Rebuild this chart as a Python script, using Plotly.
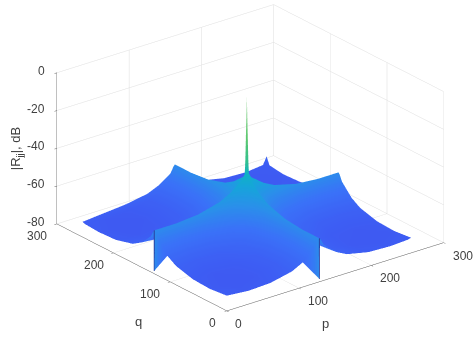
import plotly.graph_objects as go

p_vals = [0,1,30,60,90,105,115,122,126,127,128,129,130,134,141,151,166,196,226,250,255]
q_vals = [0,1,30,60,90,105,115,122,126,127,128,129,130,134,141,151,166,196,226,250,255]
tick_vals_xy = [0,100,200,300]
tick_vals_z = [-80,-60,-40,-20,0]
wall_p = [128,128,None,0,0]
wall_q = [0,0,None,128,128]
wall_z = [-78.5,-57,None,-78.5,-57]

R_dB = [
[-72,-72,-73,-72.5,-70,-67,-72,-75.5,-77.5,-78,-78.5,-57.5,-58,-61,-63.5,-67,-70,-72.5,-73,-72.5,-72],
[-72,-72,-73,-72.5,-70,-67,-63.5,-61,-58,-57.5,-57,-57.5,-58,-61,-63.5,-67,-70,-72.5,-73,-72.5,-72],
[-73,-73,-74,-73.5,-71,-68,-64.5,-62,-59,-58.5,-57,-58.5,-59,-62,-64.5,-68,-71,-73.5,-74,-73.5,-73],
[-72.5,-72.5,-73.5,-73,-70.5,-67.5,-64,-61.5,-58.5,-58,-56,-58,-58.5,-61.5,-64,-67.5,-70.5,-73,-73.5,-73,-72.5],
[-70,-70,-71,-70.5,-68,-65,-61.5,-59,-56,-55.5,-53,-55.5,-56,-59,-61.5,-65,-68,-70.5,-71,-70.5,-70],
[-67,-67,-68,-67.5,-65,-62,-58.5,-56,-53,-52.5,-50,-52.5,-53,-56,-58.5,-62,-65,-67.5,-68,-67.5,-67],
[-72,-63.5,-64.5,-64,-61.5,-58.5,-55,-52.5,-49.5,-49,-47,-49,-49.5,-52.5,-55,-58.5,-61.5,-64,-64.5,-64,-63.5],
[-75.5,-61,-62,-61.5,-59,-56,-52.5,-50,-47,-46.5,-45,-46.5,-47,-50,-52.5,-56,-59,-61.5,-62,-61.5,-61],
[-77.5,-58,-59,-58.5,-56,-53,-49.5,-47,-44,-43.5,-42,-43.5,-44,-47,-49.5,-53,-56,-58.5,-59,-58.5,-58],
[-78,-57.5,-58.5,-58,-55.5,-52.5,-49,-46.5,-43.5,-32,-18,-32,-43.5,-46.5,-49,-52.5,-55.5,-58,-58.5,-58,-57.5],
[-78.5,-57,-57,-56,-53,-50,-47,-45,-42,-18,-2,-18,-42,-45,-47,-50,-53,-56,-57,-57,-57],
[-57.5,-57.5,-58.5,-58,-55.5,-52.5,-49,-46.5,-43.5,-32,-18,-32,-43.5,-46.5,-49,-52.5,-55.5,-58,-58.5,-58,-57.5],
[-58,-58,-59,-58.5,-56,-53,-49.5,-47,-44,-43.5,-42,-43.5,-44,-47,-49.5,-53,-56,-58.5,-59,-58.5,-58],
[-61,-61,-62,-61.5,-59,-56,-52.5,-50,-47,-46.5,-45,-46.5,-47,-50,-52.5,-56,-59,-61.5,-62,-61.5,-61],
[-63.5,-63.5,-64.5,-64,-61.5,-58.5,-55,-52.5,-49.5,-49,-47,-49,-49.5,-52.5,-55,-58.5,-61.5,-64,-64.5,-64,-63.5],
[-67,-67,-68,-67.5,-65,-62,-58.5,-56,-53,-52.5,-50,-52.5,-53,-56,-58.5,-62,-65,-67.5,-68,-67.5,-67],
[-70,-70,-71,-70.5,-68,-65,-61.5,-59,-56,-55.5,-53,-55.5,-56,-59,-61.5,-65,-68,-70.5,-71,-70.5,-70],
[-72.5,-72.5,-73.5,-73,-70.5,-67.5,-64,-61.5,-58.5,-58,-56,-58,-58.5,-61.5,-64,-67.5,-70.5,-73,-73.5,-73,-72.5],
[-73,-73,-74,-73.5,-71,-68,-64.5,-62,-59,-58.5,-57,-58.5,-59,-62,-64.5,-68,-71,-73.5,-74,-73.5,-73],
[-72.5,-72.5,-73.5,-73,-70.5,-67.5,-64,-61.5,-58.5,-58,-57,-58,-58.5,-61.5,-64,-67.5,-70.5,-73,-73.5,-73,-72],
[-72,-72,-71,-70,-68,-65.5,-63,-61,-58,-57.5,-57,-57.5,-58,-61,-63.5,-67,-70,-72.5,-73,-72,-68],
]

# the thin edge ribbons take the colour of the row/column next to them
colour = [row[:] for row in R_dB]
colour[0] = list(R_dB[1])
for row_c, row_z in zip(colour, R_dB):
    row_c[0] = row_z[1]

parula = [[0.0,"#3e26a8"],[0.05,"#3f56f0"],[0.1,"#3d5ef4"],[0.2,"#3a72f8"],[0.3,"#2a90ea"],[0.4,"#16a5da"],
          [0.475,"#0fb3c3"],[0.55,"#30c090"],[0.7,"#5cc86e"],[1.0,"#a0d8a0"]]

text_font = dict(family="Liberation Sans", size=12, color="#404040")
title_font = dict(family="Liberation Sans", size=13, color="#404040")

axis_common = dict(showbackground=False, showgrid=True, gridcolor="#dedede", gridwidth=1,
                   showline=True, linecolor="#595959", linewidth=1, ticks="outside",
                   ticklen=3, tickcolor="#595959", zeroline=False, showticklabels=False,
                   showspikes=False, title=dict(text=""))

labels = []
for v in tick_vals_xy:
    labels.append(dict(x=v, y=0, z=-80, text=str(v), showarrow=False, font=text_font,
                       xshift=12 if v == 0 else 19, yshift=-13))
    labels.append(dict(x=0, y=v, z=-80, text=str(v), showarrow=False, font=text_font,
                       xshift=-14 if v == 0 else -20, yshift=-12))
for v in tick_vals_z:
    labels.append(dict(x=0, y=300, z=v, text=str(v), showarrow=False, font=text_font,
                       xanchor="right", xshift=-10, yshift=2))
labels += [
    dict(x=150, y=0, z=-80, text="p", showarrow=False, xshift=-10, yshift=-47, font=title_font),
    dict(x=0, y=150, z=-80, text="q", showarrow=False, xshift=-3, yshift=-54, font=title_font),
    dict(x=0, y=300, z=-40, text="|R<sub>jj</sub>|, dB", textangle=-90, showarrow=False, xshift=-40, font=title_font),
]

fig = go.Figure()
fig.add_trace(go.Surface(x=p_vals, y=q_vals, z=R_dB, surfacecolor=colour, colorscale=parula,
                         cmin=-80, cmax=0, showscale=False,
                         lighting=dict(ambient=1, diffuse=0, specular=0, fresnel=0),
                         contours=dict(x=dict(highlight=False), y=dict(highlight=False), z=dict(highlight=False))))
fig.add_trace(go.Scatter3d(x=wall_p, y=wall_q, z=wall_z, mode="lines",
                           line=dict(color="#2a3f9f", width=2), showlegend=False))
fig.update_layout(
    width=474, height=351, margin=dict(l=0, r=0, t=0, b=0), paper_bgcolor="white",
    scene=dict(
        domain=dict(x=[0,1], y=[0,1]),
        aspectmode="manual", aspectratio=dict(x=1.57, y=1.57, z=0.94),
        camera=dict(projection=dict(type="orthographic"),
                    eye=dict(x=-0.7795, y=-0.8715, z=0.4005), center=dict(x=-0.0595, y=0.0465, z=-0.1105), up=dict(x=0,y=0,z=1)),
        xaxis=dict(range=[0,300], tickvals=tick_vals_xy, **axis_common),
        yaxis=dict(range=[0,300], tickvals=tick_vals_xy, **axis_common),
        zaxis=dict(range=[-80,0], tickvals=tick_vals_z, **axis_common),
        annotations=labels,
    ),
)
fig.write_html("out.html", config=dict(displayModeBar=False),
               post_script="document.body.style.margin='0';document.documentElement.style.overflow='hidden';")
